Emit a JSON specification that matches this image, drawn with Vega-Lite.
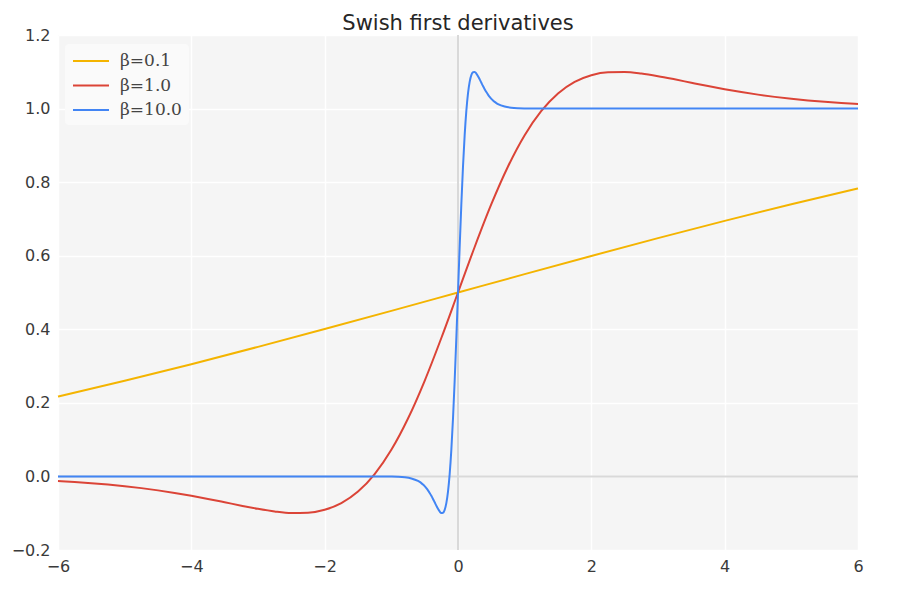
{
  "$schema": "https://vega.github.io/schema/vega-lite/v6.json",
  "width": 800,
  "height": 515,
  "autosize": "none",
  "padding": {"left": 58, "top": 35, "right": 46, "bottom": 50},
  "background": "white",
  "title": {"text": "Swish first derivatives", "font": "DejaVu Sans", "fontSize": 21, "fontWeight": "normal", "color": "#262626", "offset": -7},
  "config": {
    "view": {"fill": "#f5f5f5", "stroke": null},
    "axis": {"domain": false, "ticks": false, "grid": true, "gridColor": "#ffffff", "gridWidth": 1.5, "labelFont": "DejaVu Sans", "labelFontSize": 16, "labelColor": "#3a3a3a", "labelPadding": 8, "labelFlush": false, "labelOverlap": false, "title": null}
  },
  "layer": [
    {
      "data": {"values": [{"v": 0}]},
      "mark": {"type": "rule", "color": "#d9d9d9", "strokeWidth": 2},
      "encoding": {"x": {"field": "v", "type": "quantitative", "scale": {"domain": [-6, 6]}}}
    },
    {
      "data": {"values": [{"v": 0}]},
      "mark": {"type": "rule", "color": "#d9d9d9", "strokeWidth": 2},
      "encoding": {"y": {"field": "v", "type": "quantitative", "scale": {"domain": [-0.2, 1.2]}}}
    },
    {
      "data": {"values": [
        {"s": "β=0.1", "x": -6, "y": 0.21707},
        {"s": "β=0.1", "x": -5, "y": 0.26004},
        {"s": "β=0.1", "x": -4, "y": 0.30521},
        {"s": "β=0.1", "x": -3, "y": 0.35222},
        {"s": "β=0.1", "x": -2, "y": 0.40067},
        {"s": "β=0.1", "x": -1, "y": 0.45008},
        {"s": "β=0.1", "x": 0, "y": 0.5},
        {"s": "β=0.1", "x": 1, "y": 0.54992},
        {"s": "β=0.1", "x": 2, "y": 0.59933},
        {"s": "β=0.1", "x": 3, "y": 0.64778},
        {"s": "β=0.1", "x": 4, "y": 0.69479},
        {"s": "β=0.1", "x": 5, "y": 0.73996},
        {"s": "β=0.1", "x": 6, "y": 0.78293},

        {"s": "β=1.0", "x": -6, "y": -0.012329},
        {"s": "β=1.0", "x": -5.75, "y": -0.015014},
        {"s": "β=1.0", "x": -5.5, "y": -0.018222},
        {"s": "β=1.0", "x": -5.25, "y": -0.022043},
        {"s": "β=1.0", "x": -5, "y": -0.026547},
        {"s": "β=1.0", "x": -4.75, "y": -0.031812},
        {"s": "β=1.0", "x": -4.5, "y": -0.03791},
        {"s": "β=1.0", "x": -4.25, "y": -0.044867},
        {"s": "β=1.0", "x": -4, "y": -0.052666},
        {"s": "β=1.0", "x": -3.75, "y": -0.06121},
        {"s": "β=1.0", "x": -3.5, "y": -0.070274},
        {"s": "β=1.0", "x": -3.25, "y": -0.079459},
        {"s": "β=1.0", "x": -3, "y": -0.088105},
        {"s": "β=1.0", "x": -2.75, "y": -0.095225},
        {"s": "β=1.0", "x": -2.5, "y": -0.099402},
        {"s": "β=1.0", "x": -2.25, "y": -0.098732},
        {"s": "β=1.0", "x": -2, "y": -0.090785},
        {"s": "β=1.0", "x": -1.75, "y": -0.072679},
        {"s": "β=1.0", "x": -1.5, "y": -0.041293},
        {"s": "β=1.0", "x": -1.25, "y": 0.006319},
        {"s": "β=1.0", "x": -1, "y": 0.072329},
        {"s": "β=1.0", "x": -0.75, "y": 0.1574},
        {"s": "β=1.0", "x": -0.5, "y": 0.260039},
        {"s": "β=1.0", "x": -0.25, "y": 0.376289},
        {"s": "β=1.0", "x": 0, "y": 0.5},
        {"s": "β=1.0", "x": 0.25, "y": 0.623711},
        {"s": "β=1.0", "x": 0.5, "y": 0.739961},
        {"s": "β=1.0", "x": 0.75, "y": 0.8426},
        {"s": "β=1.0", "x": 1, "y": 0.927671},
        {"s": "β=1.0", "x": 1.25, "y": 0.993681},
        {"s": "β=1.0", "x": 1.5, "y": 1.041293},
        {"s": "β=1.0", "x": 1.75, "y": 1.072679},
        {"s": "β=1.0", "x": 2, "y": 1.090785},
        {"s": "β=1.0", "x": 2.25, "y": 1.098732},
        {"s": "β=1.0", "x": 2.5, "y": 1.099402},
        {"s": "β=1.0", "x": 2.75, "y": 1.095225},
        {"s": "β=1.0", "x": 3, "y": 1.088105},
        {"s": "β=1.0", "x": 3.25, "y": 1.079459},
        {"s": "β=1.0", "x": 3.5, "y": 1.070274},
        {"s": "β=1.0", "x": 3.75, "y": 1.06121},
        {"s": "β=1.0", "x": 4, "y": 1.052666},
        {"s": "β=1.0", "x": 4.25, "y": 1.044867},
        {"s": "β=1.0", "x": 4.5, "y": 1.03791},
        {"s": "β=1.0", "x": 4.75, "y": 1.031812},
        {"s": "β=1.0", "x": 5, "y": 1.026547},
        {"s": "β=1.0", "x": 5.25, "y": 1.022043},
        {"s": "β=1.0", "x": 5.5, "y": 1.018222},
        {"s": "β=1.0", "x": 5.75, "y": 1.015014},
        {"s": "β=1.0", "x": 6, "y": 1.012329},

        {"s": "β=10.0", "x": -6, "y": 0},
        {"s": "β=10.0", "x": -3, "y": 0},
        {"s": "β=10.0", "x": -2, "y": 0},
        {"s": "β=10.0", "x": -1.5, "y": -0.000005},
        {"s": "β=10.0", "x": -1.2, "y": -0.00008},
        {"s": "β=10.0", "x": -1, "y": -0.00045},
        {"s": "β=10.0", "x": -0.9, "y": -0.00099},
        {"s": "β=10.0", "x": -0.8, "y": -0.00234},
        {"s": "β=10.0", "x": -0.7, "y": -0.00546},
        {"s": "β=10.0", "x": -0.6, "y": -0.012329},
        {"s": "β=10.0", "x": -0.575, "y": -0.015014},
        {"s": "β=10.0", "x": -0.55, "y": -0.018222},
        {"s": "β=10.0", "x": -0.525, "y": -0.022043},
        {"s": "β=10.0", "x": -0.5, "y": -0.026547},
        {"s": "β=10.0", "x": -0.475, "y": -0.031812},
        {"s": "β=10.0", "x": -0.45, "y": -0.03791},
        {"s": "β=10.0", "x": -0.425, "y": -0.044867},
        {"s": "β=10.0", "x": -0.4, "y": -0.052666},
        {"s": "β=10.0", "x": -0.375, "y": -0.06121},
        {"s": "β=10.0", "x": -0.35, "y": -0.070274},
        {"s": "β=10.0", "x": -0.325, "y": -0.079459},
        {"s": "β=10.0", "x": -0.3, "y": -0.088105},
        {"s": "β=10.0", "x": -0.275, "y": -0.095225},
        {"s": "β=10.0", "x": -0.25, "y": -0.099402},
        {"s": "β=10.0", "x": -0.225, "y": -0.098732},
        {"s": "β=10.0", "x": -0.2, "y": -0.090785},
        {"s": "β=10.0", "x": -0.175, "y": -0.072679},
        {"s": "β=10.0", "x": -0.15, "y": -0.041293},
        {"s": "β=10.0", "x": -0.125, "y": 0.006319},
        {"s": "β=10.0", "x": -0.1, "y": 0.072329},
        {"s": "β=10.0", "x": -0.075, "y": 0.1574},
        {"s": "β=10.0", "x": -0.05, "y": 0.260039},
        {"s": "β=10.0", "x": -0.025, "y": 0.376289},
        {"s": "β=10.0", "x": 0, "y": 0.5},
        {"s": "β=10.0", "x": 0.025, "y": 0.623711},
        {"s": "β=10.0", "x": 0.05, "y": 0.739961},
        {"s": "β=10.0", "x": 0.075, "y": 0.8426},
        {"s": "β=10.0", "x": 0.1, "y": 0.927671},
        {"s": "β=10.0", "x": 0.125, "y": 0.993681},
        {"s": "β=10.0", "x": 0.15, "y": 1.041293},
        {"s": "β=10.0", "x": 0.175, "y": 1.072679},
        {"s": "β=10.0", "x": 0.2, "y": 1.090785},
        {"s": "β=10.0", "x": 0.225, "y": 1.098732},
        {"s": "β=10.0", "x": 0.25, "y": 1.099402},
        {"s": "β=10.0", "x": 0.275, "y": 1.095225},
        {"s": "β=10.0", "x": 0.3, "y": 1.088105},
        {"s": "β=10.0", "x": 0.325, "y": 1.079459},
        {"s": "β=10.0", "x": 0.35, "y": 1.070274},
        {"s": "β=10.0", "x": 0.375, "y": 1.06121},
        {"s": "β=10.0", "x": 0.4, "y": 1.052666},
        {"s": "β=10.0", "x": 0.425, "y": 1.044867},
        {"s": "β=10.0", "x": 0.45, "y": 1.03791},
        {"s": "β=10.0", "x": 0.475, "y": 1.031812},
        {"s": "β=10.0", "x": 0.5, "y": 1.026547},
        {"s": "β=10.0", "x": 0.525, "y": 1.022043},
        {"s": "β=10.0", "x": 0.55, "y": 1.018222},
        {"s": "β=10.0", "x": 0.575, "y": 1.015014},
        {"s": "β=10.0", "x": 0.6, "y": 1.012329},
        {"s": "β=10.0", "x": 0.7, "y": 1.00546},
        {"s": "β=10.0", "x": 0.8, "y": 1.00234},
        {"s": "β=10.0", "x": 0.9, "y": 1.00099},
        {"s": "β=10.0", "x": 1, "y": 1.00045},
        {"s": "β=10.0", "x": 1.2, "y": 1.00008},
        {"s": "β=10.0", "x": 1.5, "y": 1.000005},
        {"s": "β=10.0", "x": 2, "y": 1},
        {"s": "β=10.0", "x": 3, "y": 1},
        {"s": "β=10.0", "x": 6, "y": 1}
      ]},
      "mark": {"type": "line", "strokeWidth": 2, "interpolate": "monotone"},
      "encoding": {
        "x": {"field": "x", "type": "quantitative", "scale": {"domain": [-6, 6], "nice": false, "zero": false}, "axis": {"values": [-6, -4, -2, 0, 2, 4, 6], "format": "d"}},
        "y": {"field": "y", "type": "quantitative", "scale": {"domain": [-0.2, 1.2], "nice": false, "zero": false}, "axis": {"values": [-0.2, 0, 0.2, 0.4, 0.6, 0.8, 1.0, 1.2], "format": ".1f"}},
        "color": {
          "field": "s", "type": "nominal",
          "scale": {"domain": ["β=0.1", "β=1.0", "β=10.0"], "range": ["#f4b400", "#db4437", "#4285f4"]},
          "legend": {"title": null, "orient": "none", "legendX": 7, "legendY": 9, "fillColor": "#fafafa", "cornerRadius": 4, "padding": 7, "symbolType": "M-1,0H3", "symbolSize": 324, "symbolStrokeWidth": 2, "labelFont": "DejaVu Serif", "labelFontSize": 17, "labelColor": "#444444", "labelOffset": 28, "rowPadding": 6.5}
        }
      }
    }
  ]
}
